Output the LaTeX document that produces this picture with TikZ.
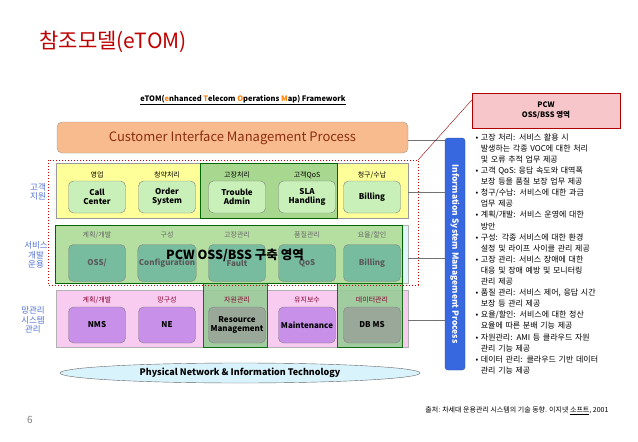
\documentclass[tikz,border=0pt]{standalone}
\usepackage{fontspec}
\setmainfont{Noto Sans CJK KR}
\usetikzlibrary{shapes.geometric}
\definecolor{cimp}{HTML}{F7BB8E}
\definecolor{cimpt}{HTML}{8B2E10}
\definecolor{yel}{HTML}{FFFF99}
\definecolor{gr1}{HTML}{A8D890}
\definecolor{gbox}{HTML}{C8F0B8}
\definecolor{teal}{HTML}{78BCA0}
\definecolor{pink}{HTML}{F8CCF0}
\definecolor{purp}{HTML}{C890E8}
\definecolor{gray1}{HTML}{9AA89A}
\definecolor{lblue}{HTML}{5070D0}
\definecolor{bar}{HTML}{3868E0}
\definecolor{pcw}{HTML}{F7C6CA}
\tikzset{
 rb/.style={draw=black!50,rounded corners=5pt,minimum width=57pt,minimum height=32pt,inner sep=1pt,align=center,font=\bfseries\fontsize{8}{9}\selectfont},
 lab/.style={font=\fontsize{7}{8}\selectfont},
 side/.style={font=\fontsize{8.5}{9.5}\selectfont,text=lblue,align=center},
 conn/.style={draw=black!55,line width=0.8pt},
 bul/.style={anchor=north west,font=\fontsize{8}{11.1}\selectfont,align=left,text width=155pt}
}
\begin{document}
\begin{tikzpicture}[x=1pt,y=-1pt]
\useasboundingbox[fill=white] (0,0) rectangle (638,442);
\node[anchor=west,text=red!75!black,font=\fontsize{21}{24}\selectfont] (title) at (36,42) {참조모델(eTOM)};
\node[font=\bfseries\fontsize{7.5}{9}\selectfont] (hdr) at (243,100) {\underline{eTOM(\textcolor{orange}{e}nhanced \textcolor{orange}{T}elecom \textcolor{orange}{O}perations \textcolor{orange}{M}ap) Framework}};
% bar
\node[draw=bar!70!black,fill=bar,rounded corners=3pt,minimum width=232pt,minimum height=20pt,rotate=-90,text=white,font=\bfseries\fontsize{8.5}{9}\selectfont] (isbar) at (455,254) {Information System Management Process};
% connectors
\coordinate (c1) at (445,140); \coordinate (c2) at (445,192); \coordinate (c3) at (445,258); \coordinate (c4) at (445,320);
\node[draw=black!40,fill=cimp,rounded corners=5pt,minimum width=351pt,minimum height=31pt,text=cimpt,font=\fontsize{13}{14}\selectfont] (cimpb) at (232.5,137.5) {Customer Interface Management Process};
\draw[conn] (cimpb.east|-c1) -- (c1);
% row1
\node[draw=black!40,fill=yel,minimum width=352pt,minimum height=55pt,inner sep=0] (r1) at (232,190.5) {};
\node[draw=green!40!black,fill=gr1,minimum width=137pt,minimum height=55pt,inner sep=0] (r1g) at (268.5,190.5) {};
\draw[conn] (r1.east|-c2) -- (c2);
\foreach \x/\l/\t/\n in {97/영업/{Call\\Center}/a,167/청약처리/{Order\\System}/b,237/고장처리/{Trouble\\Admin}/c,307/고객QoS/{SLA\\Handling}/d,372/{청구/수납}/{Billing}/e}{
  \node[lab] (l1\n) at (\x,175) {\l};
  \node[rb,fill=gbox] (b1\n) at (\x,197) {\t};}
% row2
\node[draw=black!30,fill=cyan!12,minimum width=352pt,minimum height=58pt,inner sep=0] (r2c) at (232,254) {};
\node[draw=green!40!black,fill=gr1!85,minimum width=347pt,minimum height=58pt,inner sep=0] (r2) at (228.5,254) {};
\draw[conn] (r2c.east|-c3) -- (c3);
\foreach \x/\l/\t/\n in {97/{계획/개발}/{OSS/}/a,167/구성/{Configuration}/b,237/고장관리/{Fault}/c,307/품질관리/{QoS}/d,372/{요율/할인}/{Billing}/e}{
  \node[lab,text=black!60] (l2\n) at (\x,235) {\l};
  \node[rb,fill=teal,text=black!65,minimum height=37pt] (b2\n) at (\x,263) {\t};}
\node[font=\bfseries\fontsize{12.5}{14}\selectfont] (pcwt) at (235,255) {PCW OSS/BSS 구축 영역};
% row3
\node[draw=black!30,fill=pink,minimum width=352pt,minimum height=57pt,inner sep=0] (r3) at (232,318.5) {};
\draw[conn] (r3.east|-c4) -- (c4);
\node[draw=green!40!black,fill=green!35!gray!60,minimum width=64pt,minimum height=64pt,inner sep=0,opacity=0.9] (g3a) at (235,315) {};
\node[draw=green!40!black,fill=green!35!gray!60,minimum width=65pt,minimum height=64pt,inner sep=0,opacity=0.9] (g3b) at (369.5,315) {};
\foreach \x/\l/\t/\n/\f in {97/{계획/개발}/{NMS}/a/purp,167/망구성/{NE}/b/purp,237/자원관리/{Resource\\Management}/c/gray1,307/유지보수/{Maintenance}/d/purp,372/데이터관리/{DB MS}/e/gray1}{
  \node[lab,text=purple!70!black] (l3\n) at (\x,300) {\l};
  \node[rb,fill=\f,minimum height=36pt] (b3\n) at (\x,325) {\t};}
% dotted red
\draw[red!80!black,dotted,line width=1pt] (48,160) rectangle (418,285);
\coordinate (dr) at (418,160);
% side labels
\node[side] (s1) at (38,192) {고객\\지원};
\node[side] (s2) at (36,255) {서비스\\개발\\운용};
\node[side] (s3) at (33,320) {망관리\\시스템\\관리};
% ellipse
\node[ellipse,draw=black!60,fill=cyan!15,minimum width=360pt,minimum height=20pt,inner sep=0,font=\bfseries\fontsize{9}{10}\selectfont] (phys) at (240,373) {Physical Network \& Information Technology};
% PCW box
\node[draw=red!70!black,fill=pcw,minimum width=148pt,minimum height=35pt,align=center,font=\bfseries\fontsize{7.5}{10}\selectfont] (pcwb) at (546,110.5) {PCW\\OSS/BSS 영역};
\draw[red!60!black] (dr) -- (pcwb.west|-0,100);
% bullets
\node[bul] (bl) at (472,130) {\textbullet\ 고장 처리: 서비스 활용 시\\\ \ 발생하는 각종 VOC에 대한 처리\\\ \ 및 오류 추적 업무 제공\\
\textbullet\ 고객 QoS: 응답 속도와 대역폭\\\ \ 보장 등을 품질 보장 업무 제공\\
\textbullet\ 청구/수납: 서비스에 대한 과금\\\ \ 업무 제공\\
\textbullet\ 계획/개발: 서비스 운영에 대한\\\ \ 방안\\
\textbullet\ 구성: 각종 서비스에 대한 환경\\\ \ 설정 및 라이프 사이클 관리 제공\\
\textbullet\ 고장 관리: 서비스 장애에 대한\\\ \ 대응 및 장애 예방 및 모니터링\\\ \ 관리 제공\\
\textbullet\ 품질 관리: 서비스 제어, 응답 시간\\\ \ 보장 등 관리 제공\\
\textbullet\ 요율/할인: 서비스에 대한 정산\\\ \ 요율에 따른 분배 기능 제공\\
\textbullet\ 자원관리: AMI 등 클라우드 자원\\\ \ 관리 기능 제공\\
\textbullet\ 데이터 관리: 클라우드 기반 데이터\\\ \ 관리 기능 제공};
\node[anchor=east,font=\fontsize{7}{8}\selectfont] (src) at (612,411) {출처: 차세대 운용관리 시스템의 기술 동향. 이지넷 \underline{소프트}, 2001};
\node[text=black!50,font=\itshape\fontsize{10}{11}\selectfont] (pg) at (30,420) {6};
\end{tikzpicture}
\end{document}
